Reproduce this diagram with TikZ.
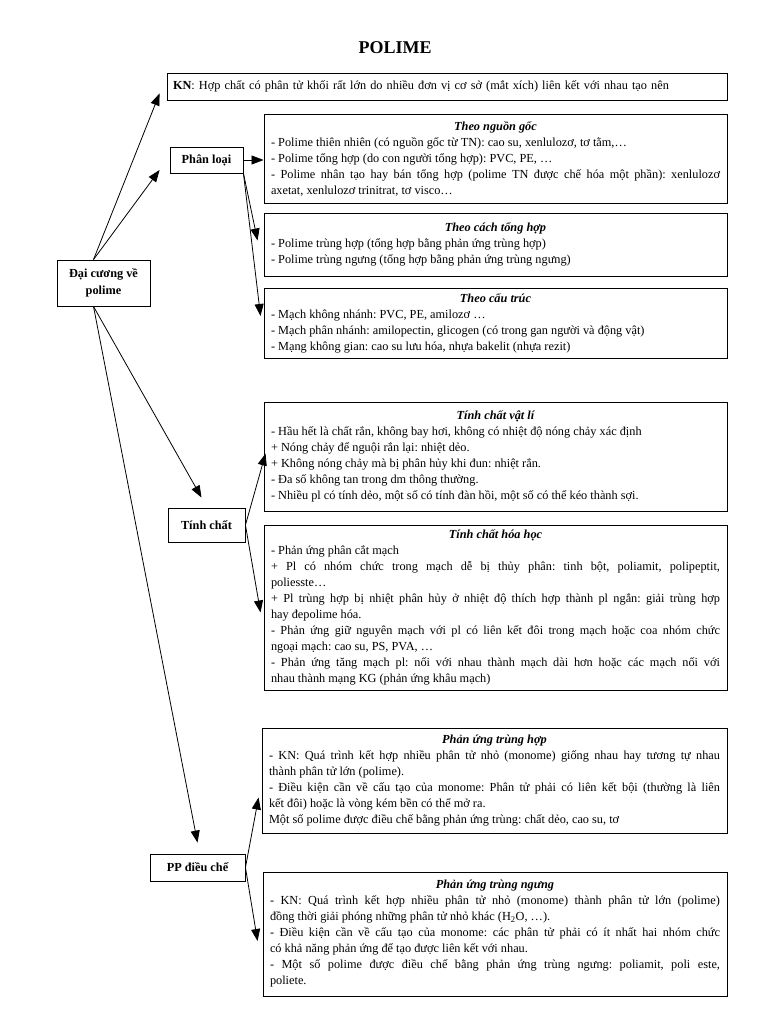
\documentclass[tikz,border=0pt]{standalone}
\usepackage{fontspec}
\setmainfont{Liberation Serif}
\usetikzlibrary{arrows.meta,calc}
\begin{document}
\frenchspacing
\begin{tikzpicture}[x=1pt,y=-1pt,
 bx/.style={draw, line width=0.9pt, minimum width=463pt, text width=449pt, inner xsep=7pt, inner ysep=0pt, align=justify, font=\fontsize{12.3}{16}\selectfont\frenchspacing},
 lbl/.style={draw, line width=0.9pt, font=\bfseries\fontsize{12.3}{17}\selectfont, align=center, inner sep=0pt},
 arr/.style={line width=0.8pt, -{Triangle[length=12pt,width=9pt]}}]
\useasboundingbox[fill=white] (0,0) rectangle (768,1024);
\newcommand{\boxtitle}[1]{\makebox[\linewidth]{\bfseries\itshape #1}\par}

\node (title) at (395,48) {\fontsize{18}{20}\selectfont\bfseries POLIME};

\node[draw, line width=0.9pt, minimum width=560pt, minimum height=27pt, text width=548pt, inner xsep=6pt, align=left, font=\fontsize{12.3}{16}\selectfont\frenchspacing] (kn) at (447,86.5)
 {\textbf{KN}: Hợp chất có phân tử khối rất lớn do nhiều đơn vị cơ sở (mắt xích) liên kết với nhau tạo nên};

\node[lbl, minimum width=73pt, minimum height=26pt] (pl) at (206.5,160) {Phân loại};
\node[lbl, minimum width=93pt, minimum height=46pt] (dc) at (103.5,283) {Đại cương về\\polime};
\node[lbl, minimum width=77pt, minimum height=34pt] (tc) at (206.5,525) {Tính chất};
\node[lbl, minimum width=95pt, minimum height=27pt] (pp) at (197.5,867.5) {PP điều chế};

\node[bx, minimum height=89pt] (ng) at (495.5,158.5) {\boxtitle{Theo nguồn gốc}
- Polime thiên nhiên (có nguồn gốc từ TN): cao su, xenlulozơ, tơ tằm,…\par
- Polime tổng hợp (do con người tổng hợp): PVC, PE, …\par
- Polime nhân tạo hay bán tổng hợp (polime TN được chế hóa một phần): xenlulozơ\linebreak axetat, xenlulozơ trinitrat, tơ visco…};

\node[bx, minimum height=63pt] (cth) at (495.5,244.5) {\boxtitle{Theo cách tổng hợp}
- Polime trùng hợp (tổng hợp bằng phản ứng trùng hợp)\par
- Polime trùng ngưng (tổng hợp bằng phản ứng trùng ngưng)};

\node[bx, minimum height=70pt] (ct) at (495.5,323) {\boxtitle{Theo cấu trúc}
- Mạch không nhánh: PVC, PE, amilozơ …\par
- Mạch phân nhánh: amilopectin, glicogen (có trong gan người và động vật)\par
- Mạng không gian: cao su lưu hóa, nhựa bakelit (nhựa rezit)};

\node[bx, minimum height=109pt] (vl) at (495.5,456.5) {\boxtitle{Tính chất vật lí}
- Hầu hết là chất rắn, không bay hơi, không có nhiệt độ nóng chảy xác định\par
+ Nóng chảy để nguội rắn lại: nhiệt dẻo.\par
+ Không nóng chảy mà bị phân hủy khi đun: nhiệt rắn.\par
- Đa số không tan trong dm thông thường.\par
- Nhiều pl có tính dẻo, một số có tính đàn hồi, một số có thể kéo thành sợi.};

\node[bx, minimum height=165pt] (hh) at (495.5,607.5) {\boxtitle{Tính chất hóa học}
- Phản ứng phân cắt mạch\par
+ Pl có nhóm chức trong mạch dễ bị thủy phân: tinh bột, poliamit, polipeptit,\linebreak poliesste…\par
+ Pl trùng hợp bị nhiệt phân hủy ở nhiệt độ thích hợp thành pl ngắn: giải trùng hợp\linebreak hay đepolime hóa.\par
- Phản ứng giữ nguyên mạch với pl có liên kết đôi trong mạch hoặc coa nhóm chức\linebreak ngoại mạch: cao su, PS, PVA, …\par
- Phản ứng tăng mạch pl: nối với nhau thành mạch dài hơn hoặc các mạch nối với\linebreak nhau thành mạng KG (phản ứng khâu mạch)};

\node[bx, minimum width=465pt, text width=451pt, minimum height=105pt] (th) at (494.5,780.5) {\boxtitle{Phản ứng trùng hợp}
- KN: Quá trình kết hợp nhiều phân tử nhỏ (monome) giống nhau hay tương tự nhau\linebreak thành phân tử lớn (polime).\par
- Điều kiện cần về cấu tạo của monome: Phân tử phải có liên kết bội (thường là liên\linebreak kết đôi) hoặc là vòng kém bền có thể mở ra.\par
Một số polime được điều chế bằng phản ứng trùng: chất dẻo, cao su, tơ};

\node[bx, minimum width=464pt, text width=450pt, minimum height=124pt] (tn) at (495,934) {\boxtitle{Phản ứng trùng ngưng}
- KN: Quá trình kết hợp nhiều phân tử nhỏ (monome) thành phân tử lớn (polime)\linebreak đồng thời giải phóng những phân tử nhỏ khác (H\textsubscript{2}O, …).\par
- Điều kiện cần về cấu tạo của monome: các phân tử phải có ít nhất hai nhóm chức\linebreak có khả năng phản ứng để tạo được liên kết với nhau.\par
- Một số polime được điều chế bằng phản ứng trùng ngưng: poliamit, poli este,\linebreak poliete.};

% connectors
\draw[arr] ($(dc.north)+(-10,0)$) -- ($(kn.south west)+(-7,-7)$);
\draw[arr] ($(dc.north)+(-10,0)$) -- ($(pl.west)+(-10,10)$);
\draw[arr] (pl.east) -- (pl.east -| ng.west);
\draw[arr] (pl.south east) -- ($(cth.west)+(-6,-4)$);
\draw[arr] (pl.south east) -- ($(ct.west)+(-3,-7)$);
\draw[arr] ($(dc.south)+(-10,0)$) -- ($(tc.north)+(-5,-10)$);
\draw[arr] ($(dc.south)+(-10,0)$) -- ($(pp.north)+(0,-11)$);
\draw[arr] (tc.east) -- ($(vl.west)+(2,-3)$);
\draw[arr] (tc.east) -- ($(hh.west)+(-3,5)$);
\draw[arr] (pp.east) -- ($(th.west)+(-3,17)$);
\draw[arr] (pp.east) -- ($(tn.west)+(-5,7)$);
\end{tikzpicture}
\end{document}
